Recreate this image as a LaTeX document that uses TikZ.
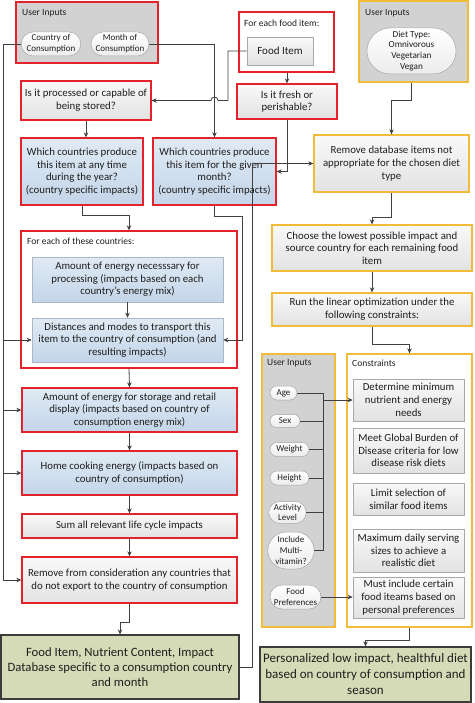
\documentclass[tikz,border=0pt]{standalone}
\usepackage{fontspec}
\setmainfont{Carlito}
\usetikzlibrary{arrows.meta,calc,shapes.misc}
\definecolor{redb}{HTML}{E3222B}
\definecolor{yelb}{HTML}{F2BC3A}
\definecolor{grpfill}{HTML}{D2D2D2}
\definecolor{lgtop}{HTML}{F9F9F9}
\definecolor{lgbot}{HTML}{E2E2E2}
\definecolor{bltop}{HTML}{E0EAF4}
\definecolor{blbot}{HTML}{C3D5E9}
\definecolor{olive}{HTML}{D5DBB6}
\definecolor{lineC}{HTML}{404040}
\definecolor{txt}{HTML}{1E1E1E}
\definecolor{greybd}{HTML}{A8A8A8}
\definecolor{bluebd}{HTML}{A9B8C8}
\definecolor{darkbd}{HTML}{3C3C3C}
\tikzset{
 base/.style={rectangle, inner sep=1pt, align=center, text=txt, font=\fontsize{10.8}{12.7}\selectfont},
 redbox/.style={base, draw=redb, line width=1.3pt, top color=lgtop, bottom color=lgbot},
 redblue/.style={base, draw=redb, line width=1.3pt, top color=bltop, bottom color=blbot},
 bluebox/.style={base, draw=bluebd, line width=0.6pt, top color=bltop, bottom color=blbot},
 yelbox/.style={base, draw=yelb, line width=1.3pt, top color=lgtop, bottom color=lgbot},
 greybox/.style={base, draw=greybd, line width=0.6pt, top color=lgtop, bottom color=lgbot},
 olivebox/.style={base, draw=darkbd, line width=1.2pt, fill=olive, font=\fontsize{12.7}{15.2}\selectfont},
 pill/.style={rounded rectangle, draw=greybd, line width=0.5pt, top color=white, bottom color=gray!15, inner sep=1pt, align=center, text=txt, font=\fontsize{9}{10.8}\selectfont},
 grp/.style={rectangle, inner sep=0pt},
 grplabel/.style={anchor=west, inner sep=0pt, text=txt, font=\fontsize{9.5}{11}\selectfont},
 line/.style={draw=lineC, line width=0.8pt},
 arr/.style={line, -{Stealth[length=5pt,width=4.5pt]}},
}
\begin{document}
\begin{tikzpicture}[x=1pt,y=-1pt]
\useasboundingbox (0,0) rectangle (474,703);
% groups
\node[grp, draw=redb, line width=1.3pt, fill=grpfill, minimum width=142pt, minimum height=61pt] (ui1) at (87,32.5) {};
\node[grplabel] (ui1lbl) at (22,13) {User Inputs};
\node[grp, draw=redb, line width=1.3pt, fill=white, minimum width=95pt, minimum height=60pt] (foodgrp) at (286.5,42) {};
\node[grplabel] (foodlbl) at (244,23) {For each food item:};
\node[grp, draw=yelb, line width=1.3pt, fill=grpfill, minimum width=109pt, minimum height=81pt] (ui3) at (413.5,41.5) {};
\node[grplabel] (ui3lbl) at (365,13) {User Inputs};
\node[grp, draw=redb, line width=1.3pt, fill=white, minimum width=216pt, minimum height=137pt] (container) at (129,299.5) {};
\node[grplabel] (contlbl) at (27,241) {For each of these countries:};
\node[grp, draw=yelb, line width=1.3pt, fill=grpfill, minimum width=73pt, minimum height=273pt] (ui2) at (298.5,490.5) {};
\node[grplabel] (ui2lbl) at (267,363) {User Inputs};
\node[grp, draw=yelb, line width=1.3pt, fill=white, minimum width=125pt, minimum height=273pt] (consgrp) at (409.5,490.5) {};
\node[grplabel] (conslbl) at (352,363) {Constraints};
% top ovals
\node[pill, minimum width=57pt, minimum height=24pt] (country) at (51,44) {Country of\\Consumption};
\node[pill, minimum width=60pt, minimum height=24pt] (month) at (120,44) {Month of\\Consumption};
\node[greybox, minimum width=66pt, minimum height=28pt, font=\fontsize{11}{13}\selectfont] (fooditem) at (280,51) {Food Item};
\node[pill, minimum width=91pt, minimum height=46pt, font=\fontsize{9.2}{10.8}\selectfont] (diet) at (411.5,51) {Diet Type:\\Omnivorous\\Vegetarian\\Vegan};
% left column
\node[redbox, minimum width=100pt, minimum height=35pt] (fresh) at (287,101.5) {Is it fresh or\\perishable?};
\node[redbox, minimum width=130pt, minimum height=39pt] (processed) at (86,100.5) {Is it processed or capable of\\being stored?};
\node[redblue, minimum width=122pt, minimum height=67pt] (anytime) at (82,171.5) {Which countries produce\\this item at any time\\during the year?\\(country specific impacts)};
\node[redblue, minimum width=123pt, minimum height=67pt] (monthbox) at (214.5,171.5) {Which countries produce\\this item for the given\\month?\\(country specific impacts)};
\node[bluebox, minimum width=191pt, minimum height=45pt] (energyproc) at (127.5,279.5) {Amount of energy necesssary for\\processing (impacts based on each\\country’s energy mix)};
\node[bluebox, minimum width=191pt, minimum height=44pt] (distances) at (127.5,340) {Distances and modes to transport this\\item to the country of consumption (and\\resulting impacts)};
\node[redblue, minimum width=215pt, minimum height=44pt] (storage) at (129.5,410) {Amount of energy for storage and retail\\display (impacts based on country of\\consumption energy mix)};
\node[redblue, minimum width=215pt, minimum height=44pt] (cooking) at (129.5,473) {Home cooking energy (impacts based on\\country of consumption)};
\node[redbox, minimum width=215pt, minimum height=24pt] (sum) at (129.5,526) {Sum all relevant life cycle impacts};
\node[redbox, minimum width=215pt, minimum height=46pt] (removec) at (129.5,580) {Remove from consideration any countries that\\do not export to the country of consumption};
\node[olivebox, minimum width=238pt, minimum height=64pt] (database) at (120,667) {Food Item, Nutrient Content, Impact\\Database specific to a consumption country\\and month};
% right column
\node[yelbox, minimum width=155pt, minimum height=57pt] (removedb) at (391.5,163.5) {Remove database items not\\appropriate for the chosen diet\\type};
\node[yelbox, minimum width=200pt, minimum height=46pt] (choose) at (372,248) {Choose the lowest possible impact and\\source country for each remaining food\\item};
\node[yelbox, minimum width=200pt, minimum height=33pt] (run) at (372,309.5) {Run the linear optimization under the\\following constraints:};
% user input ovals
\node[pill, minimum width=29pt, minimum height=14pt] (age) at (283.5,393) {Age};
\node[pill, minimum width=32pt, minimum height=13pt] (sex) at (285,421) {Sex};
\node[pill, minimum width=41pt, minimum height=14pt] (weight) at (289.5,449.5) {Weight};
\node[pill, minimum width=41pt, minimum height=14pt] (height) at (289.5,478) {Height};
\node[pill, minimum width=37pt, minimum height=22pt] (activity) at (287.5,512.5) {Activity\\Level};
\node[pill, minimum width=44pt, minimum height=37pt] (multi) at (291,550.5) {Include\\Multi-\\vitamin?};
\node[pill, minimum width=53pt, minimum height=24pt] (foodpref) at (295.5,597) {Food\\Preferences};
% constraints
\node[greybox, minimum width=111pt, minimum height=42pt] (determine) at (408.5,400) {Determine minimum\\nutrient and energy\\needs};
\node[greybox, minimum width=111pt, minimum height=45pt] (gbd) at (408.5,450.5) {Meet Global Burden of\\Disease criteria for low\\disease risk diets};
\node[greybox, minimum width=111pt, minimum height=32pt] (limit) at (408.5,499) {Limit selection of\\similar food items};
\node[greybox, minimum width=111pt, minimum height=43pt] (maxdaily) at (408.5,550.5) {Maximum daily serving\\sizes to achieve a\\realistic diet};
\node[greybox, minimum width=111pt, minimum height=41pt] (mustinclude) at (408.5,597.5) {Must include certain\\food iteams based on\\personal preferences};
\node[olivebox, minimum width=211pt, minimum height=55pt, font=\fontsize{13}{16}\selectfont] (personalized) at (365.5,674.5) {Personalized low impact, healthful diet\\based on country of consumption and\\season};
% connectors
\coordinate (L) at (3,0);
\coordinate (F) at (228,0);
\coordinate (M) at (242,0);
\coordinate (R) at (252,0);
\coordinate (B) at (323,0);
\draw[arr] (country.west) -- (country.west -| L) -- (L |- removec.west) -- (removec.west);
\draw[arr] (L |- distances.west) -- (distances.west);
\draw[arr] (L |- storage.west) -- (storage.west);
\draw[arr] (L |- cooking.west) -- (cooking.west);
\draw[arr] (month.east) -| (monthbox.north);
\draw[arr] (fooditem.west) -- (fooditem.west -| F) -- (F |- processed.east) -- ($(F |- processed.east)+(-10,0)$) arc[start angle=0,end angle=180,radius=3.5pt] -- (processed.east);
\draw[arr] (foodgrp.south -| fresh.north) -- (fresh.north);
\draw[arr] (fresh.south) |- (monthbox.east);
\draw[arr] (processed.south) -- (processed.south |- anytime.north);
\draw[arr] (anytime.south) -- ++(0,10) -| (container.north);
\draw[arr] (energyproc.south) -- (distances.north);
\draw[arr] (monthbox.south) -- ++(0,11) -| (M |- distances.east) -- (distances.east);
\draw[arr] (container.south) -- (storage.north);
\draw[arr] (storage.south) -- (cooking.north);
\draw[arr] (cooking.south) -- (sum.north);
\draw[arr] (sum.south) -- (removec.north);
\draw[arr] (removec.south) -- ++(0,19) -| (database.north);
\draw[arr] (database.east) -| (R |- removedb.west) -- (removedb.west);
\draw[arr] (ui3.south -| diet.south) -- ++(0,18) -| (removedb.north);
\draw[arr] (removedb.south) -- ++(0,25) -| (choose.north);
\draw[arr] (choose.south) -- (run.north);
\draw[arr] (run.south) -- ++(0,18) -| (consgrp.north);
\draw[line] (age.east) -- (age.east -| B);
\draw[line] (sex.east) -- (sex.east -| B);
\draw[line] (weight.east) -- (weight.east -| B);
\draw[line] (height.east) -- (height.east -| B);
\draw[line] (activity.east) -- (activity.east -| B);
\draw[line] (multi.east) -- (multi.east -| B);
\draw[line] (age.east -| B) -- (multi.east -| B);
\draw[arr] (B |- determine.west) -- (determine.west);
\draw[arr] (foodpref.east) -- (foodpref.east -| mustinclude.west);
\draw[arr] (consgrp.south) -- ++(0,13) -| (personalized.north);
\end{tikzpicture}
\end{document}
